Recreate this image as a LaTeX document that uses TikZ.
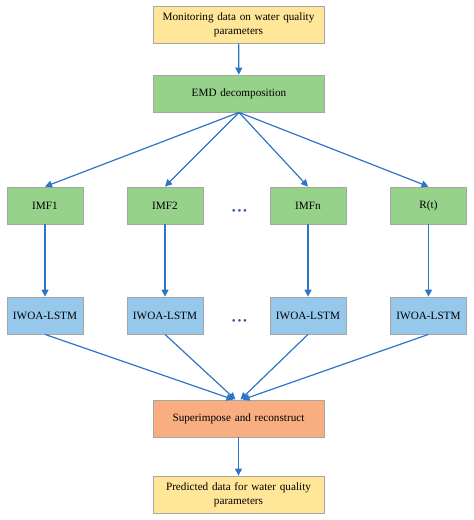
\documentclass[tikz,border=0pt]{standalone}
\usepackage{fontspec}
\setmainfont{Liberation Serif}
\usetikzlibrary{arrows.meta,calc}
\definecolor{yel}{HTML}{FFE699}
\definecolor{grn}{HTML}{96D28A}
\definecolor{blu}{HTML}{96C8EC}
\definecolor{org}{HTML}{F8AE80}
\definecolor{edge}{HTML}{A6A6A6}
\definecolor{arr}{HTML}{2E75C6}
\definecolor{dotc}{HTML}{2F5597}
\begin{document}
\begin{tikzpicture}[x=1pt,y=-1pt,
  box/.style={draw=edge,line width=0.8pt,minimum height=37pt,inner sep=1pt,align=center,font=\fontsize{11.2}{14}\selectfont},
  widebox/.style={box,minimum width=171pt,text width=168pt},
  smallbox/.style={box,minimum width=76pt},
  conn/.style={draw=arr,line width=1.2pt,-{Triangle[width=7pt,length=7pt]}},
  dots/.style={text=dotc,inner sep=0pt,font=\fontsize{11}{11}\selectfont}]
\useasboundingbox (0,0) rectangle (474,520);
\node[widebox,fill=yel] (top) at (238.5,24.5) {\hyphenpenalty=10000 Monitoring data on water quality\\parameters};
\node[widebox,fill=grn] (emd) at (239,93.5) {EMD decomposition};
\node[smallbox,fill=grn] (i1) at (45,205.5) {IMF1};
\node[smallbox,fill=grn] (i2) at (165,205.5) {IMF2};
\node[smallbox,fill=grn] (in) at (308,205.5) {IMFn};
\node[smallbox,fill=grn] (ir) at (428.5,205.5) {R(t)};
\node[smallbox,fill=blu] (l1) at (45,315.5) {IWOA-LSTM};
\node[smallbox,fill=blu] (l2) at (165,315.5) {IWOA-LSTM};
\node[smallbox,fill=blu] (ln) at (308,315.5) {IWOA-LSTM};
\node[smallbox,fill=blu] (lr) at (428.5,315.5) {IWOA-LSTM};
\node[dots] (d1) at (239.5,212) {•\kern1.8pt•\kern1.8pt•};
\node[dots] (d2) at (239.5,322) {•\kern1.8pt•\kern1.8pt•};
\node[widebox,fill=org] (sup) at (238.5,418.5) {Superimpose and reconstruct};
\node[widebox,fill=yel] (bot) at (238.5,494.5) {\hyphenpenalty=10000 Predicted data for water quality\\parameters};
\draw[conn] (top) -- (emd);
\foreach \n in {i1,i2,in,ir} \draw[conn] (emd.south) -- (\n.north);
\foreach \a/\b in {i1/l1,i2/l2,in/ln,ir/lr} \draw[conn] (\a) -- (\b);
\draw[conn] (l1.south) -- ($(sup.north)+(-5,0)$);
\draw[conn] (l2.south) -- ($(sup.north)+(-3,0)$);
\draw[conn] (ln.south) -- ($(sup.north)+(2,0)$);
\draw[conn] (lr.south) -- ($(sup.north)+(4,0)$);
\draw[conn] (sup) -- (bot);
\end{tikzpicture}
\end{document}
